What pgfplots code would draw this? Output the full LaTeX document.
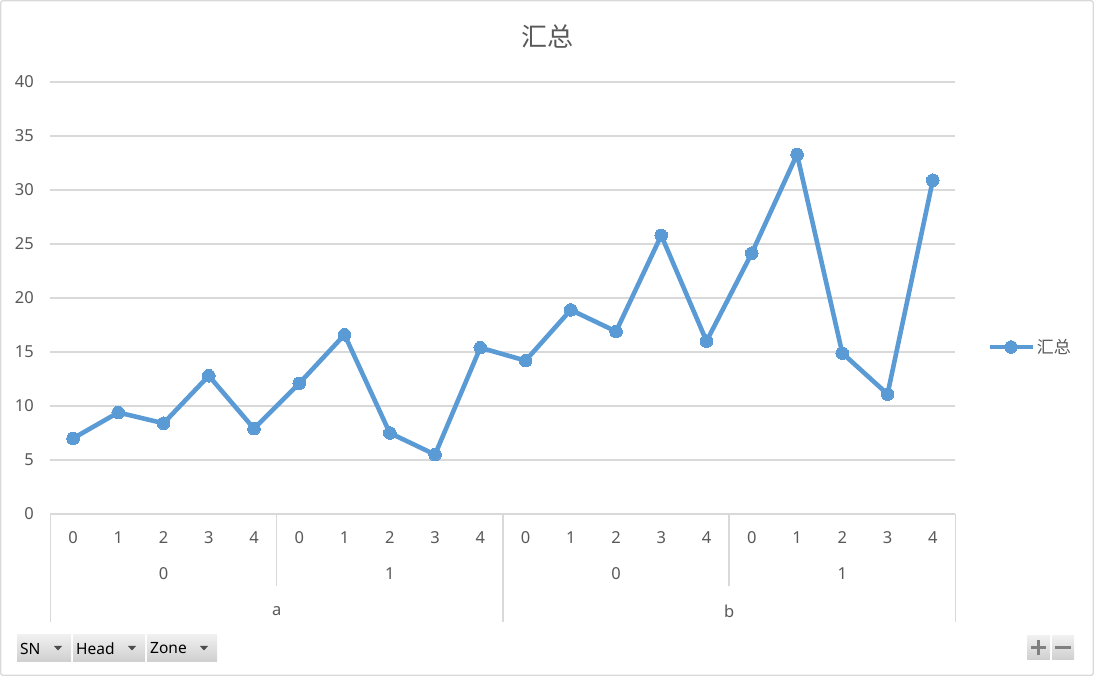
\documentclass[border=0pt]{standalone}
\usepackage{pgfplots}
\pgfplotsset{compat=1.18}
\usepackage{fontspec}
\setmainfont{Noto Sans}
\newfontfamily\cjk{Noto Sans CJK SC}
\definecolor{lineblue}{HTML}{5B9BD5}
\definecolor{gridgray}{HTML}{D9D9D9}
\definecolor{txtgray}{HTML}{595959}
\begin{document}
\begin{tikzpicture}[x=1pt,y=1pt]
\useasboundingbox (0,0) rectangle (1094,676);
\draw[gridgray, line width=1.3pt, rounded corners=2pt] (0.8,0.8) rectangle (1093.2,675.2);
\node[text=txtgray, font=\cjk\fontsize{26}{30}\selectfont] at (547,639) {汇总};
\begin{axis}[
  at={(50.4pt,162pt)}, anchor=south west,
  scale only axis, width=905pt, height=432pt,
  xmin=-0.5, xmax=19.5, ymin=0, ymax=40,
  clip=false,
  axis line style={draw=none},
  major tick length=0pt,
  ytick={0,5,...,40},
  xtick={0,...,19},
  xticklabels={0,1,2,3,4,0,1,2,3,4,0,1,2,3,4,0,1,2,3,4},
  ymajorgrids,
  grid style={gridgray, line width=1.4pt},
  /pgf/number format/assume math mode=true,
  tick label style={text=txtgray, font=\fontsize{16.5}{20}\selectfont, inner sep=0pt},
  yticklabel style={anchor=east, xshift=-16.5pt},
  xticklabel style={anchor=center, yshift=-24pt},
  legend style={at={(rel axis cs:1.035,0.3866)}, anchor=west, draw=none, fill=none,
    inner sep=0pt, font=\cjk\fontsize{17}{20}\selectfont, text=txtgray},
  legend image code/.code={\draw[mark repeat=2,mark phase=2,#1] plot coordinates {(0pt,0pt) (21.5pt,0pt) (43pt,0pt)};},
]
\addplot[color=lineblue, line width=4.6pt, line join=round, mark=*, mark size=6.3pt,
  mark options={fill=lineblue, draw=lineblue, line width=0pt}]
  coordinates {
  (0,7.0) (1,9.4) (2,8.4) (3,12.8) (4,7.9)
  (5,12.1) (6,16.6) (7,7.5) (8,5.5) (9,15.4)
  (10,14.2) (11,18.9) (12,16.9) (13,25.8) (14,16.0)
  (15,24.15) (16,33.3) (17,14.9) (18,11.1) (19,30.9)
  };
\addlegendentry{汇总}
\draw[gridgray, line width=1.4pt] (axis cs:-0.5,0) -- ([yshift=-108pt]axis cs:-0.5,0);
\draw[gridgray, line width=1.4pt] (axis cs:4.5,0) -- ([yshift=-72pt]axis cs:4.5,0);
\draw[gridgray, line width=1.4pt] (axis cs:9.5,0) -- ([yshift=-108pt]axis cs:9.5,0);
\draw[gridgray, line width=1.4pt] (axis cs:14.5,0) -- ([yshift=-72pt]axis cs:14.5,0);
\draw[gridgray, line width=1.4pt] (axis cs:19.5,0) -- ([yshift=-108pt]axis cs:19.5,0);
\begin{scope}[every node/.style={text=txtgray, font=\fontsize{16.5}{20}\selectfont, inner sep=0pt}]
\node at ([yshift=-60pt]axis cs:2,0) {0};
\node at ([yshift=-60pt]axis cs:7,0) {1};
\node at ([yshift=-60pt]axis cs:12,0) {0};
\node at ([yshift=-60pt]axis cs:17,0) {1};
\node at ([yshift=-97pt]axis cs:4.5,0) {a};
\node at ([yshift=-97pt]axis cs:14.5,0) {b};
\end{scope}
\end{axis}
% pivot field buttons
\foreach \xa/\xb/\lab in {17/71/SN, 73/145/Head, 147/217/Zone}{
  \shade[top color=gray!12, bottom color=gray!38] (\xa,14) rectangle (\xb,41);
  \node[anchor=west, inner sep=0pt, font=\fontsize{15.5}{18}\selectfont, text=black] at (\xa+3,27.5) {\lab};
  \fill[black!70] (\xb-17,30) -- (\xb-9,30) -- (\xb-13,25.5) -- cycle;
}
\shade[top color=gray!12, bottom color=gray!38] (1027,16) rectangle (1050,40);
\shade[top color=gray!12, bottom color=gray!38] (1052,16) rectangle (1074,40);
\draw[gray, line width=3pt] (1031,28) -- (1046,28) (1038.5,20.5) -- (1038.5,35.5);
\draw[gray, line width=3pt] (1055,28) -- (1071,28);
\end{tikzpicture}
\end{document}
